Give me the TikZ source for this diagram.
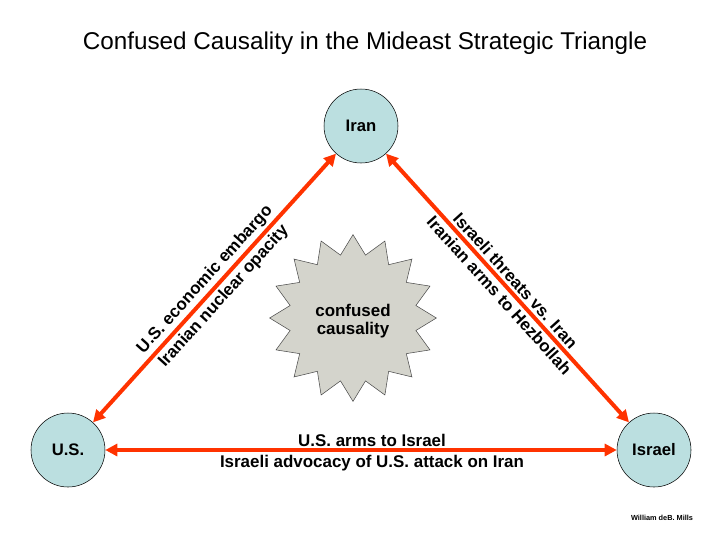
\documentclass[tikz,border=0pt]{standalone}
\usepackage{fontspec}
\setmainfont{Liberation Sans}
\usetikzlibrary{shapes.geometric,arrows.meta}
\definecolor{circ}{HTML}{BBDFE0}
\definecolor{arr}{HTML}{FF3300}
\definecolor{starc}{HTML}{D4D4CC}
\tikzset{
  country/.style={circle,draw=black,fill=circ,minimum size=55.5pt,inner sep=0pt,font=\fontsize{12.5}{14}\selectfont\bfseries},
  link/.style={draw=arr,line width=3pt,{Triangle[length=9pt,width=9pt]}-{Triangle[length=9pt,width=9pt]}},
  lbl/.style={font=\fontsize{12.7}{14}\selectfont\bfseries,inner sep=1pt}
}
\begin{document}
\begin{tikzpicture}[x=0.75pt,y=-0.75pt]
\useasboundingbox (0,0) rectangle (720,540);
\node[font=\fontsize{18.2}{21}\selectfont] (title) at (365,43) {Confused Causality in the Mideast Strategic Triangle};
\node[country] (iran) at (361,126) {Iran};
\node[country] (us) at (68,450) {U.S.};
\node[country] (isr) at (654,450) {Israel};
\node[star,star points=16,star point ratio=1.3,draw=black!70,fill=starc,minimum size=125pt,inner sep=0pt] (star) at (353,318) {};
\node[lbl,align=center] (starlbl) at (353,321) {confused\\causality};
\draw[link] (us) -- (iran) node[midway,sloped,above=1pt,lbl]{U.S. economic embargo} node[midway,sloped,below=1pt,lbl]{Iranian nuclear opacity};
\draw[link] (iran) -- (isr) node[midway,sloped,above=1pt,lbl]{Israeli threats vs. Iran} node[midway,sloped,below=1pt,lbl]{Iranian arms to Hezbollah};
\draw[link] (us) -- (isr);
\node[lbl] (b1) at (372,440) {U.S. arms to Israel};
\node[lbl] (b2) at (372,463) {Israeli advocacy of U.S. attack on Iran};
\node[font=\fontsize{5.5}{6}\selectfont\bfseries] (sig) at (662,518) {William deB. Mills};
\end{tikzpicture}
\end{document}
